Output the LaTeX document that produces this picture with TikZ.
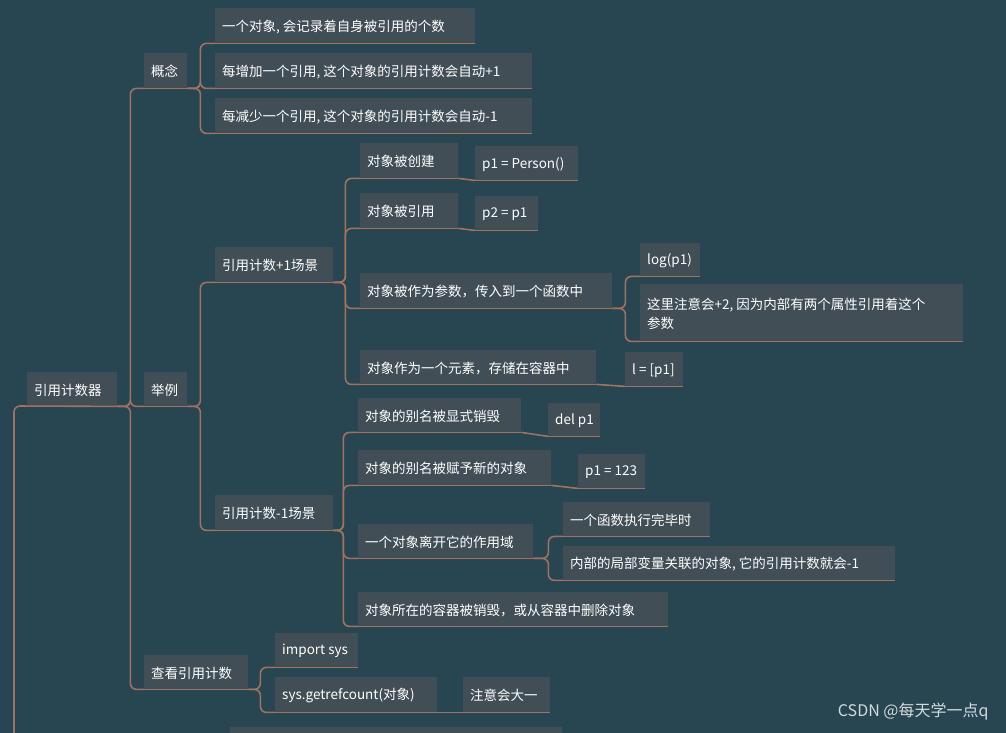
\documentclass[tikz,border=0pt]{standalone}
\usepackage{fontspec}
\setmainfont{Noto Sans CJK SC}
\definecolor{bg}{HTML}{274651}
\definecolor{bxc}{HTML}{414E55}
\definecolor{ln}{HTML}{A0725F}
\tikzset{
  bx/.style={fill=bxc, anchor=north west, inner sep=0pt},
  tx/.style={text=white, font=\fontsize{13.5}{19}\selectfont, anchor=west, inner xsep=7pt, inner ysep=0pt, align=left},
  conn/.style={draw=ln, line width=1.6pt, rounded corners=6pt},
  sconn/.style={draw=ln, line width=1.6pt},
}
\newcommand\bx[6]{%
  \node[bx, minimum width={#4pt-#2pt}, minimum height={#5pt-#3pt}] (#1) at (#2,#3) {};
  \node[tx] (#1t) at ([yshift=-1pt]#1.west) {#6};
  \draw[draw=ln, line width=1.6pt] (#1.south west) -- (#1.south east);}
\newcommand\cn[3]{\draw[conn] (#1.south east) -- ++(#3,0) |- (#2.south west);}
\newcommand\sn[2]{\draw[sconn] (#1.south east) -- (#2.south west);}
\begin{document}
\begin{tikzpicture}[x=1pt,y=-1pt]
\fill[bg] (0,0) rectangle (1006,733);
\useasboundingbox (0,0) rectangle (1006,733);
\bx{root}{27}{372}{117}{406}{引用计数器}
\bx{gn}{144}{53}{187}{88}{概念}
\bx{jl}{144}{372}{187}{406}{举例}
\bx{ck}{144}{655}{248}{689}{查看引用计数}
\bx{g1}{215}{8}{475}{43}{一个对象, 会记录着自身被引用的个数}
\bx{g2}{215}{53}{532}{88}{每增加一个引用, 这个对象的引用计数会自动+1}
\bx{g3}{215}{98}{532}{133}{每减少一个引用, 这个对象的引用计数会自动-1}
\bx{plus}{215}{247}{333}{282}{引用计数+1场景}
\bx{minus}{215}{495}{333}{530}{引用计数-1场景}
\bx{a1}{360}{143}{458}{178}{对象被创建}
\bx{a1c}{475}{146}{578}{180}{p1 = Person()}
\bx{a2}{360}{193}{458}{228}{对象被引用}
\bx{a2c}{475}{196}{538}{230}{p2 = p1}
\bx{a3}{360}{273}{612}{308}{对象被作为参数，传入到一个函数中}
\bx{a3c}{640}{243}{700}{276}{log(p1)}
\bx{a3d}{640}{284}{963}{341}{这里注意会+2, 因为内部有两个属性引用着这个\\参数}
\bx{a4}{360}{350}{596}{384}{对象作为一个元素，存储在容器中}
\bx{a4c}{625}{352}{683}{386}{l = [p1]}
\bx{b1}{358}{398}{521}{432}{对象的别名被显式销毁}
\bx{b1c}{548}{403}{600}{436}{del p1}
\bx{b2}{358}{450}{551}{485}{对象的别名被赋予新的对象}
\bx{b2c}{578}{454}{645}{488}{p1 = 123}
\bx{b3}{358}{524}{533}{558}{一个对象离开它的作用域}
\bx{b3c}{563}{502}{710}{536}{一个函数执行完毕时}
\bx{b3d}{563}{546}{895}{580}{内部的局部变量关联的对象, 它的引用计数就会-1}
\bx{b4}{358}{592}{668}{626}{对象所在的容器被销毁，或从容器中删除对象}
\bx{c1}{275}{633}{358}{667}{import sys}
\bx{c2}{275}{677}{437}{712}{sys.getrefcount(对象)}
\bx{c2c}{463}{677}{550}{712}{注意会大一}
\fill[bxc] (230,727) rectangle (562,733);
\coordinate (bot) at (14,740);
\draw[conn] (root.south east) -- (14,406) -- (bot);
\cn{root}{gn}{13}\cn{root}{jl}{13}\cn{root}{ck}{13}
\cn{gn}{g1}{13}\cn{gn}{g2}{13}\cn{gn}{g3}{13}
\cn{jl}{plus}{13}\cn{jl}{minus}{13}
\cn{plus}{a1}{12}\cn{plus}{a2}{12}\cn{plus}{a3}{12}\cn{plus}{a4}{12}
\sn{a1}{a1c}\sn{a2}{a2c}\sn{a4}{a4c}
\cn{a3}{a3c}{13}\cn{a3}{a3d}{13}
\cn{minus}{b1}{10}\cn{minus}{b2}{10}\cn{minus}{b3}{10}\cn{minus}{b4}{10}
\sn{b1}{b1c}\sn{b2}{b2c}
\cn{b3}{b3c}{15}\cn{b3}{b3d}{15}
\cn{ck}{c1}{12}\cn{ck}{c2}{12}\sn{c2}{c2c}
\node[text=white!80!bg, font=\fontsize{16}{18}\selectfont, anchor=east] (wm) at (992,712) {CSDN @每天学一点q};
\end{tikzpicture}
\end{document}
